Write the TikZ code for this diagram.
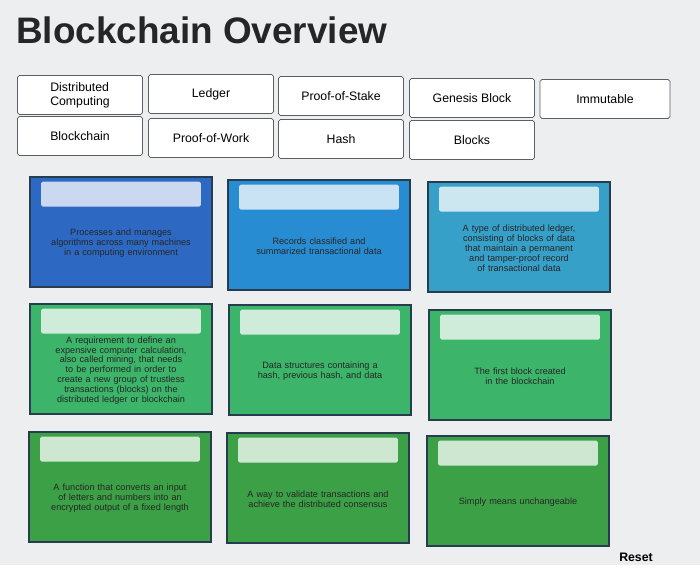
\documentclass[tikz,border=0pt]{standalone}
\usepackage{fontspec}
\setmainfont{Liberation Sans}
\usetikzlibrary{positioning, calc}
\definecolor{pagebg}{RGB}{236, 238, 240}
\definecolor{wordedge}{RGB}{90, 95, 100}
\definecolor{cardblue}{RGB}{45, 105, 195}
\definecolor{cardsky}{RGB}{40, 140, 210}
\definecolor{cardteal}{RGB}{55, 160, 200}
\definecolor{cardgreen}{RGB}{60, 180, 105}
\definecolor{carddeep}{RGB}{60, 160, 70}
\definecolor{cardedge}{RGB}{40, 60, 80}
\hyphenpenalty=10000
\exhyphenpenalty=10000
\begin{document}
\begin{tikzpicture}[x=0.02cm, y=-0.02cm,
    word/.style={rectangle, draw=wordedge, fill=white, rounded corners=1pt, minimum width=2.5cm, minimum height=0.78cm, align=left, font=\fontsize{7}{8}\selectfont},
    card/.style={rectangle, draw=cardedge, line width=0.8pt, minimum width=3.64cm, minimum height=2.2cm},
    slot/.style={rectangle, fill=white!75!#1, rounded corners=1pt, minimum width=3.2cm, minimum height=0.5cm},
    cardtext/.style={text width=3.0cm, align=center, text=black!85, font=\fontsize{5.2}{5.6}\selectfont}
]
    % Background
    \fill[pagebg] (0,0) rectangle (700,565);
    \node[anchor=west, font=\fontsize{21}{24}\selectfont\bfseries, text=black!85] (title) at (10,30) {Blockchain Overview};

    % Word bank
    \node[word] (w1) at (80,95) {Distributed\\Computing};
    \node[word] (w2) at (211,94) {Ledger};
    \node[word] (w3) at (341,96) {Proof-of-Stake};
    \node[word] (w4) at (472,98) {Genesis Block};
    \node[word, minimum width=2.6cm] (w5) at (605,99) {Immutable};
    \node[word] (w6) at (80,136) {Blockchain};
    \node[word] (w7) at (211,138) {Proof-of-Work};
    \node[word] (w8) at (341,139) {Hash};
    \node[word] (w9) at (472,140) {Blocks};

    % Definition cards
    \foreach \name/\x/\y/\col/\txt in {
        c1/121/232/cardblue/{Processes and manages algorithms across many machines in a computing environment},
        c2/319/235/cardsky/{Records classified and summarized transactional data},
        c3/519/237/cardteal/{A type of distributed ledger, consisting of blocks of data that maintain a permanent and tamper-proof record of transactional data},
        c4/121/359/cardgreen/{A requirement to define an expensive computer calculation, also called mining, that needs to be performed in order to create a new group of trustless transactions (blocks) on the distributed ledger or blockchain},
        c5/320/360/cardgreen/{Data structures containing a hash, previous hash, and data},
        c6/520/365/cardgreen/{The first block created in the blockchain},
        c7/120/487/carddeep/{A function that converts an input of letters and numbers into an encrypted output of a fixed length},
        c8/318/488/carddeep/{A way to validate transactions and achieve the distributed consensus},
        c9/518/491/carddeep/{Simply means unchangeable}}{
        \node[card, fill=\col] (\name) at (\x,\y) {};
        \node[slot=\col, below=0.1cm of \name.north] (\name s) {};
        \node[cardtext] (\name t) at ($(\name s.south)!0.45!(\name.south)$) {\txt};
    }

    \node[font=\fontsize{7}{8}\selectfont\bfseries] (reset) at (636,557) {Reset};
\end{tikzpicture}
\end{document}
